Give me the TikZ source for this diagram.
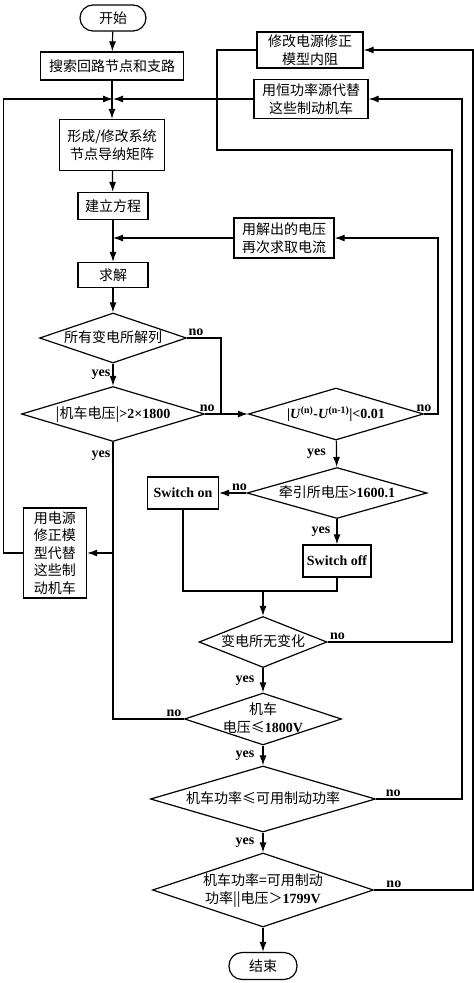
\documentclass[tikz,border=0pt]{standalone}
\usepackage{fontspec}
\setmainfont{Liberation Serif}
\newfontfamily\cjk{Noto Sans CJK SC}
\usetikzlibrary{arrows.meta,shapes.geometric}
\newcommand\lat[1]{{\rmfamily\bfseries #1}}
\newcommand\dtxt[1]{\smash{\makebox[0pt]{\raisebox{-0.6ex}{\begin{tabular}{@{}c@{}}#1\end{tabular}}}}}
\tikzset{
  box/.style={draw,rectangle,align=center,inner sep=1pt},
  term/.style={draw,rectangle,rounded corners=13pt,minimum width=66pt,minimum height=26pt},
  dec/.style 2 args={draw,diamond,inner sep=0pt,minimum width=#1,minimum height=#2},
  lbl/.style={font=\rmfamily\bfseries\fontsize{14}{16}\selectfont,inner sep=2pt},
  sw/.style={box,font=\rmfamily\bfseries\fontsize{14}{16}\selectfont}
}
\begin{document}
\begin{tikzpicture}[x=1pt,y=-1pt,>={Latex[length=10pt,width=7pt]},line width=1.2pt,
  font=\cjk\fontsize{14}{17.5}\selectfont]
  \useasboundingbox (0,0) rectangle (474,983);

  % main column
  \node[term] (start) at (113,18) {开始};
  \node[box,minimum width=143pt,minimum height=28pt] (search) at (112,66) {搜索回路节点和支路};
  \node[box,minimum width=105pt,minimum height=51pt] (form) at (112,145) {形成/修改系统\\节点导纳矩阵};
  \node[box,minimum width=70pt,minimum height=27pt] (eqn) at (113,206) {建立方程};
  \node[box,minimum width=70pt,minimum height=25pt] (solve) at (113,275) {求解};
  \node[dec={147pt}{50pt}] (dAll) at (113,338) {\dtxt{所有变电所解列}};
  \node[dec={183pt}{55pt}] (dVolt) at (113,414) {\dtxt{|机车电压|\lat{>2×1800}}};
  \node[box,minimum width=63pt,minimum height=90pt] (srcM) at (55,553) {用电源\\修正模\\型代替\\这些制\\动机车};

  % right side
  \node[box,minimum width=106pt,minimum height=36pt] (modR) at (310,50) {修改电源修正\\模型内阻};
  \node[box,minimum width=114pt,minimum height=39pt] (constP) at (311,99) {用恒功率源代替\\这些制动机车};
  \node[box,minimum width=100pt,minimum height=40pt] (reI) at (284,238) {用解出的电压\\再次求取电流};
  \node[dec={175pt}{52pt}] (dU) at (336,414)
    {\dtxt{\lat{|\textit{U}\textsuperscript{(n)}-\textit{U}\textsuperscript{(n-1)}|<0.01}}};
  \node[dec={180pt}{51pt}] (dTrac) at (337,493) {\dtxt{牵引所电压\lat{>1600.1}}};
  \node[sw,minimum width=71pt,minimum height=32pt] (swOn) at (183,493) {Switch on};
  \node[sw,minimum width=68pt,minimum height=32pt] (swOff) at (337,561) {Switch off};

  % lower column
  \node[dec={128pt}{51pt}] (dSub) at (263,642) {\dtxt{变电所无变化}};
  \node[dec={157pt}{52pt}] (dLoco) at (263,719) {\dtxt{机车\\电压≤\lat{1800V}}};
  \node[dec={225pt}{66pt}] (dPow) at (263,799) {\dtxt{机车功率≤可用制动功率}};
  \node[dec={221pt}{74pt}] (dEq) at (263,890) {\dtxt{机车功率=可用制动\\功率||电压＞\lat{1799V}}};
  \node[term,minimum width=68pt,minimum height=27pt] (end) at (263,966) {结束};

  % junctions and rails
  \coordinate (m1) at (113,99);
  \coordinate (m2) at (113,238);
  \coordinate (j1) at (217,99);
  \coordinate (j2) at (221,414);
  \coordinate (c1) at (113,553);
  \coordinate (m3) at (263,591);
  \coordinate (railU) at (438,238);
  \coordinate (railS) at (452,150);
  \coordinate (railP) at (462,99);
  \coordinate (railE) at (473,50);

  \draw[->] (start) -- (search);
  \draw[->] (search) -- (form);
  \draw[->] (form) -- (eqn);
  \draw[->] (eqn) -- (solve);
  \draw[->] (solve) -- (dAll);
  \draw[->] (dAll) -- node[lbl,left]{yes} (dVolt);
  \draw (dAll.east) -| node[lbl,above,pos=0.13]{no} (j2);
  \draw[->] (dVolt.east) -- node[lbl,above,pos=0.05]{no} (dU.west);
  \draw (dVolt.south) -- node[lbl,left,pos=0.12]{yes} (c1);
  \draw[->] (c1) -- (srcM.east);
  \draw[->] (srcM.west) -- ++(-19.5,0) |- (m1);
  \draw[->] (constP.west) -- (m1);
  \draw (modR.west) -| (j1);
  \draw[->] (reI.west) -- (m2);

  \draw[->] (dU.east) -| node[lbl,above,pos=0]{no} (railU) -- (reI.east);
  \draw[->] (dU) -- node[lbl,left=8pt]{yes} (dTrac);
  \draw[->] (dTrac.west) -- node[lbl,above,pos=0.25]{no} (swOn.east);
  \draw[->] (dTrac) -- node[lbl,left=4pt]{yes} (swOff);
  \draw (swOn.south) |- (m3);
  \draw (swOff.south) |- (m3);
  \draw[->] (m3) -- (dSub.north);

  \draw (dSub.east) -| node[lbl,above right,pos=0]{no} (railS) -| (j1);
  \draw[->] (dSub) -- node[lbl,left=6pt]{yes} (dLoco);
  \draw (dLoco.west) -| node[lbl,above left,pos=0]{no} (c1);
  \draw[->] (dLoco) -- node[lbl,left=6pt]{yes} (dPow);
  \draw[->] (dPow.east) -| node[lbl,above,pos=0.1]{no} (railP) -- (constP.east);
  \draw[->] (dPow) -- node[lbl,left=6pt]{yes} (dEq);
  \draw[->] (dEq.east) -| node[lbl,above,pos=0.1]{no} (railE) -- (modR.east);
  \draw[->] (dEq) -- (end);
\end{tikzpicture}
\end{document}
